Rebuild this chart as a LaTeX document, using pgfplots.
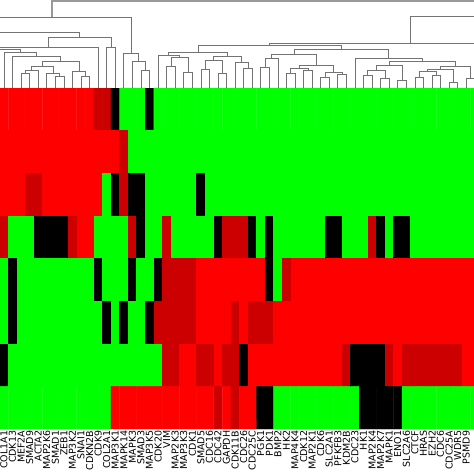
\documentclass[border=0pt]{standalone}
\usepackage{pgfplots}
\pgfplotsset{compat=1.18}
\usepackage{fontspec}
\newfontfamily\lbl{DejaVu Sans}
\pgfplotsset{dend/.style={draw=black!55, line width=0.7pt, mark=none}}
\newcommand{\lnk}[5]{\addplot[dend] coordinates {(#1,#2) (#1,#5) (#3,#5) (#3,#4)};}
\begin{document}
\begin{tikzpicture}
\useasboundingbox (0,-45pt) rectangle (474pt,429pt);
\clip (0,-45pt) rectangle (474pt,429pt);
\begin{axis}[at={(0,0)}, anchor=south west, scale only axis, width=474pt, height=341pt,
 xmin=0.535, xmax=55.91, ymin=0.5, ymax=8.5, y dir=reverse,
 axis line style={draw=none}, ytick=\empty, xtick={1,...,55},
 xticklabels={COL1A1,CDK13,MEF2A,SMAD9,ACTA2,MAP2K6,SMAD1,ZEB1,MAP3K2,SNAI1,CDKN2B,CDK9,COL2A1,MAP3K1,MAPK14,MAPK3,SMAD3,MAP3K5,CDK20,VIM,MAP2K3,MAP3K3,CDK1,SMAD5,CDC16,CDC42,GAPDH,CDK11B,CDC26,CDC25C,PGK1,PDK1,BMP2,HK2,MAP4K4,CDK12,MAP2K1,CDK6,SLC2A1,PFKFB3,KDM2B,CDC23,HK1,MAP2K4,MAP2K7,MAPK1,ENO1,SLC2A6,CTCF,HRAS,EZH2,CDC6,CDC25A,WDR5,PSMD9},
 major tick length=0pt,
 xticklabel style={rotate=90, anchor=east, font={\lbl\fontsize{9.5}{10}\selectfont}, inner sep=1.5pt},
 colormap={rkg}{rgb255(0cm)=(0,255,0); rgb255(1cm)=(0,0,0); rgb255(2cm)=(255,0,0)},
 point meta min=-1, point meta max=1]
\addplot[matrix plot*, mesh/cols=56, point meta=explicit] table[row sep=\\, meta=c] {
x y c\\
1 1 1\\2 1 1\\3 1 1\\4 1 1\\5 1 1\\6 1 1\\7 1 1\\8 1 1\\9 1 1\\10 1 1\\11 1 1\\12 1 0.8\\13 1 0.8\\14 1 0\\15 1 -1\\16 1 -1\\17 1 -1\\18 1 0\\19 1 -1\\20 1 -1\\
21 1 -1\\22 1 -1\\23 1 -1\\24 1 -1\\25 1 -1\\26 1 -1\\27 1 -1\\28 1 -1\\29 1 -1\\30 1 -1\\31 1 -1\\32 1 -1\\33 1 -1\\34 1 -1\\35 1 -1\\36 1 -1\\37 1 -1\\38 1 -1\\
39 1 -1\\40 1 -1\\41 1 -1\\42 1 -1\\43 1 -1\\44 1 -1\\45 1 -1\\46 1 -1\\47 1 -1\\48 1 -1\\49 1 -1\\50 1 -1\\51 1 -1\\52 1 -1\\53 1 -1\\54 1 -1\\55 1 -1\\56 1 -1\\
1 2 1\\2 2 1\\3 2 1\\4 2 1\\5 2 1\\6 2 1\\7 2 1\\8 2 1\\9 2 1\\10 2 1\\11 2 1\\12 2 1\\13 2 1\\14 2 1\\15 2 0.8\\16 2 -1\\17 2 -1\\18 2 -1\\19 2 -1\\20 2 -1\\
21 2 -1\\22 2 -1\\23 2 -1\\24 2 -1\\25 2 -1\\26 2 -1\\27 2 -1\\28 2 -1\\29 2 -1\\30 2 -1\\31 2 -1\\32 2 -1\\33 2 -1\\34 2 -1\\35 2 -1\\36 2 -1\\37 2 -1\\38 2 -1\\
39 2 -1\\40 2 -1\\41 2 -1\\42 2 -1\\43 2 -1\\44 2 -1\\45 2 -1\\46 2 -1\\47 2 -1\\48 2 -1\\49 2 -1\\50 2 -1\\51 2 -1\\52 2 -1\\53 2 -1\\54 2 -1\\55 2 -1\\56 2 -1\\
1 3 1\\2 3 1\\3 3 1\\4 3 0.8\\5 3 0.8\\6 3 1\\7 3 1\\8 3 1\\9 3 1\\10 3 1\\11 3 1\\12 3 1\\13 3 -1\\14 3 0\\15 3 0.8\\16 3 0\\17 3 0\\18 3 -1\\19 3 -1\\20 3 -1\\
21 3 -1\\22 3 -1\\23 3 -1\\24 3 0\\25 3 -1\\26 3 -1\\27 3 -1\\28 3 -1\\29 3 -1\\30 3 -1\\31 3 -1\\32 3 -1\\33 3 -1\\34 3 -1\\35 3 -1\\36 3 -1\\37 3 -1\\38 3 -1\\
39 3 -1\\40 3 -1\\41 3 -1\\42 3 -1\\43 3 -1\\44 3 -1\\45 3 -1\\46 3 -1\\47 3 -1\\48 3 -1\\49 3 -1\\50 3 -1\\51 3 -1\\52 3 -1\\53 3 -1\\54 3 -1\\55 3 -1\\56 3 -1\\
1 4 0.8\\2 4 -1\\3 4 -1\\4 4 -1\\5 4 0\\6 4 0\\7 4 0\\8 4 0\\9 4 0.8\\10 4 1\\11 4 1\\12 4 -1\\13 4 -1\\14 4 -1\\15 4 -1\\16 4 0.8\\17 4 0\\18 4 -1\\19 4 -1\\20 4 0.8\\
21 4 -1\\22 4 -1\\23 4 -1\\24 4 -1\\25 4 -1\\26 4 0\\27 4 0.8\\28 4 0.8\\29 4 0.8\\30 4 0\\31 4 -1\\32 4 0\\33 4 -1\\34 4 -1\\35 4 -1\\36 4 -1\\37 4 -1\\38 4 -1\\
39 4 0\\40 4 0\\41 4 -1\\42 4 -1\\43 4 -1\\44 4 0.8\\45 4 0\\46 4 -1\\47 4 0\\48 4 0\\49 4 -1\\50 4 -1\\51 4 -1\\52 4 -1\\53 4 -1\\54 4 -1\\55 4 -1\\56 4 -1\\
1 5 -1\\2 5 0\\3 5 -1\\4 5 -1\\5 5 -1\\6 5 -1\\7 5 -1\\8 5 -1\\9 5 -1\\10 5 -1\\11 5 -1\\12 5 0\\13 5 -1\\14 5 -1\\15 5 -1\\16 5 0\\17 5 -1\\18 5 -1\\19 5 0\\20 5 0.8\\
21 5 0.8\\22 5 0.8\\23 5 0.8\\24 5 1\\25 5 1\\26 5 1\\27 5 1\\28 5 1\\29 5 1\\30 5 1\\31 5 1\\32 5 0\\33 5 -1\\34 5 0.8\\35 5 1\\36 5 1\\37 5 1\\38 5 1\\
39 5 1\\40 5 1\\41 5 1\\42 5 1\\43 5 1\\44 5 1\\45 5 1\\46 5 1\\47 5 1\\48 5 1\\49 5 1\\50 5 1\\51 5 1\\52 5 1\\53 5 1\\54 5 1\\55 5 1\\56 5 1\\
1 6 -1\\2 6 0\\3 6 -1\\4 6 -1\\5 6 -1\\6 6 -1\\7 6 -1\\8 6 -1\\9 6 -1\\10 6 -1\\11 6 -1\\12 6 -1\\13 6 0\\14 6 -1\\15 6 0\\16 6 -1\\17 6 -1\\18 6 0\\19 6 0.8\\20 6 0.8\\
21 6 0.8\\22 6 0.8\\23 6 0.8\\24 6 1\\25 6 1\\26 6 1\\27 6 1\\28 6 0.8\\29 6 1\\30 6 0.8\\31 6 0.8\\32 6 0.8\\33 6 1\\34 6 1\\35 6 1\\36 6 1\\37 6 1\\38 6 1\\
39 6 1\\40 6 1\\41 6 1\\42 6 1\\43 6 1\\44 6 1\\45 6 1\\46 6 1\\47 6 1\\48 6 1\\49 6 1\\50 6 1\\51 6 1\\52 6 1\\53 6 1\\54 6 1\\55 6 1\\56 6 1\\
1 7 0\\2 7 -1\\3 7 -1\\4 7 -1\\5 7 -1\\6 7 -1\\7 7 -1\\8 7 -1\\9 7 -1\\10 7 -1\\11 7 -1\\12 7 -1\\13 7 -1\\14 7 -1\\15 7 -1\\16 7 -1\\17 7 -1\\18 7 -1\\19 7 -1\\20 7 0.8\\
21 7 0.8\\22 7 1\\23 7 1\\24 7 0.8\\25 7 0.8\\26 7 1\\27 7 0.8\\28 7 0.8\\29 7 0\\30 7 1\\31 7 1\\32 7 1\\33 7 1\\34 7 1\\35 7 1\\36 7 1\\37 7 1\\38 7 1\\
39 7 1\\40 7 1\\41 7 0.8\\42 7 0\\43 7 0\\44 7 0\\45 7 0\\46 7 0.8\\47 7 1\\48 7 0.8\\49 7 0.8\\50 7 0.8\\51 7 0.8\\52 7 0.8\\53 7 0.8\\54 7 0.8\\55 7 1\\56 7 1\\
1 8 -1\\2 8 -1\\3 8 -1\\4 8 -1\\5 8 -1\\6 8 -1\\7 8 -1\\8 8 -1\\9 8 -1\\10 8 -1\\11 8 -1\\12 8 -1\\13 8 -1\\14 8 1\\15 8 1\\16 8 1\\17 8 1\\18 8 1\\19 8 1\\20 8 1\\
21 8 1\\22 8 1\\23 8 1\\24 8 1\\25 8 1\\26 8 0.8\\27 8 1\\28 8 0.8\\29 8 1\\30 8 1\\31 8 0\\32 8 0\\33 8 -1\\34 8 -1\\35 8 -1\\36 8 -1\\37 8 -1\\38 8 -1\\
39 8 -1\\40 8 -1\\41 8 -1\\42 8 -1\\43 8 0\\44 8 0\\45 8 0\\46 8 0\\47 8 0\\48 8 -1\\49 8 -1\\50 8 -1\\51 8 -1\\52 8 -1\\53 8 -1\\54 8 -1\\55 8 -1\\56 8 -1\\
};
\end{axis}
\begin{axis}[at={(0,341pt)}, anchor=south west, scale only axis, width=474pt, height=88pt,
 xmin=0.535, xmax=55.91, ymin=0, ymax=88, y dir=reverse, hide axis, clip=true]
% left cluster
\lnk{3}{88}{4}{88}{73}
\lnk{3.5}{73}{5}{88}{70}
\lnk{7}{88}{8}{88}{76}
\lnk{6}{88}{7.5}{76}{73}
\lnk{4.25}{70}{6.75}{73}{66}
\lnk{10}{88}{11}{88}{76}
\lnk{9}{88}{10.5}{76}{71}
\lnk{5.5}{66}{9.75}{71}{61}
\lnk{2}{88}{7.625}{61}{56}
\lnk{1}{88}{4.81}{56}{52}
\lnk{-2}{60}{2.91}{52}{49}
\lnk{0.45}{49}{12}{88}{47}
\lnk{13}{88}{14}{88}{47}
\lnk{6.23}{47}{13.5}{47}{37}
\lnk{-15}{40}{9.86}{37}{32}
\lnk{17}{88}{18}{88}{70}
\lnk{16}{88}{17.5}{70}{61}
\lnk{15}{88}{16.75}{61}{53}
\lnk{-2.57}{32}{15.875}{53}{17}
% right cluster
\lnk{20}{88}{21}{88}{66}
\lnk{22}{88}{23}{88}{72}
\lnk{20.5}{66}{22.5}{72}{57}
\lnk{19}{88}{21.5}{57}{55}
\lnk{24}{88}{25}{88}{69}
\lnk{26}{88}{27}{88}{73}
\lnk{24.5}{69}{26.5}{73}{60}
\lnk{29}{88}{30}{88}{68}
\lnk{28}{88}{29.5}{68}{62}
\lnk{25.5}{60}{28.75}{62}{56}
\lnk{20.25}{55}{27.125}{56}{52}
\lnk{31}{88}{32}{88}{67}
\lnk{31.5}{67}{33}{88}{58}
\lnk{34}{88}{35}{88}{73}
\lnk{36}{88}{37}{88}{70}
\lnk{34.5}{73}{36.5}{70}{68}
\lnk{38}{88}{39}{88}{77}
\lnk{40}{88}{41}{88}{74}
\lnk{38.5}{77}{40.5}{74}{72}
\lnk{35.5}{68}{39.5}{72}{65}
\lnk{32.25}{58}{37.5}{65}{54}
\lnk{43}{88}{44}{88}{75}
\lnk{45}{88}{46}{88}{78}
\lnk{43.5}{75}{45.5}{78}{70}
\lnk{47}{88}{48}{88}{80}
\lnk{44.5}{70}{47.5}{80}{65}
\lnk{49}{88}{50}{88}{77}
\lnk{51}{88}{52}{88}{75}
\lnk{49.5}{77}{51.5}{75}{71}
\lnk{53}{88}{54}{88}{82}
\lnk{50.5}{71}{53.5}{82}{69}
\lnk{55}{88}{56}{88}{78}
\lnk{52}{69}{55.5}{78}{66}
\lnk{46}{65}{53.75}{66}{61}
\lnk{42}{88}{49.875}{61}{58}
\lnk{34.875}{54}{45.94}{58}{49}
\lnk{23.69}{52}{40.4}{49}{45}
\lnk{32.05}{45}{65}{40}{43}
\lnk{48.5}{43}{80}{30}{16}
\addplot[draw=black!40, line width=2pt, mark=none] coordinates {(6.65,17) (6.65,1.2) (64.25,1.2) (64.25,16)};
\end{axis}
\end{tikzpicture}
\end{document}
